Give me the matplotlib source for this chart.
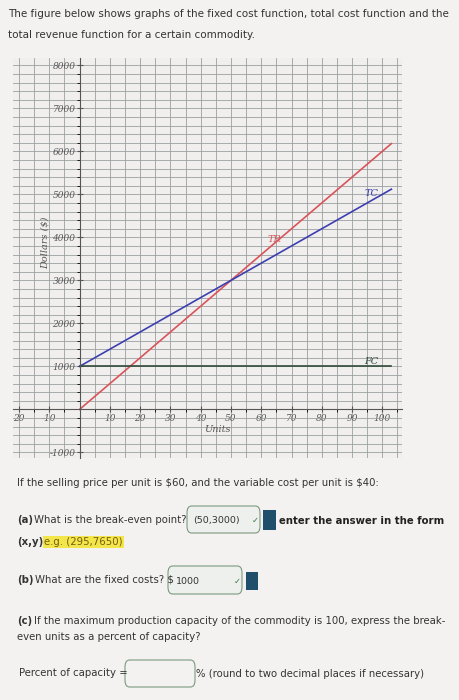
import numpy as np
import matplotlib
matplotlib.use("Agg")
import matplotlib.pyplot as plt
from matplotlib.patches import FancyBboxPatch, Rectangle

# data
price = 60
var_cost = 40
fixed_cost = 1000
units = np.array([0, 103])
x_ticks = [-20, -10, 10, 20, 30, 40, 50, 60, 70, 80, 90, 100]
y_ticks = [-1000, 1000, 2000, 3000, 4000, 5000, 6000, 7000, 8000]

fig = plt.figure(figsize=(4.6, 7), dpi=100)
fig.patch.set_facecolor("#f4f2f0")

W, H = 460, 700


def fx(px):
    return px / W


def fy(py):
    return 1 - py / H


fig.text(fx(8), fy(14), "The figure below shows graphs of the fixed cost function, total cost function and the",
         fontsize=7.5, va="center", color="#333")
fig.text(fx(8), fy(35), "total revenue function for a certain commodity.", fontsize=7.5, va="center", color="#333")

ax = fig.add_axes([fx(13), fy(458), fx(402) - fx(13), fy(58) - fy(458)])
ax.set_facecolor("#f1eeee")
ax.set_xlim(-22, 106.5)
ax.set_ylim(-1130, 8170)
ax.set_xticks(np.arange(-20, 106, 5), minor=True)
ax.set_yticks(np.arange(-1000, 8200, 200), minor=True)
ax.grid(which="minor", color="#9aa0a0", lw=0.6)
ax.grid(which="major", color="#9aa0a0", lw=0.6)
for s in ["top", "right"]:
    ax.spines[s].set_visible(False)
ax.spines["left"].set_position(("data", 0))
ax.spines["bottom"].set_position(("data", 0))
ax.spines["left"].set_color("#555")
ax.spines["bottom"].set_color("#555")
ax.set_xticks(x_ticks)
ax.set_yticks(y_ticks)
ax.set_xticklabels([str(abs(t)) if t == -20 else str(t) for t in x_ticks],
                   fontsize=6.5, style="italic", family="serif", color="#555")
ax.set_yticklabels([str(t) for t in y_ticks], fontsize=6.5, style="italic", family="serif", color="#555")
ax.tick_params(direction="inout", length=4, color="#555", pad=1)

ax.plot(units, price * units, color="#d9545a", lw=1.2)
ax.plot(units, fixed_cost + var_cost * units, color="#3c3fb0", lw=1.2)
ax.plot(units, [fixed_cost, fixed_cost], color="#2f4a3a", lw=1.2)

tf = dict(style="italic", family="serif", fontsize=7)
ax.text(62, 3900, "TR", color="#d9545a", **tf)
ax.text(94, 4950, "TC", color="#3c3fb0", **tf)
ax.text(94, 1060, "FC", color="#2f4a3a", **tf)
ax.text(41, -520, "Units", color="#555", **tf)
ax.text(-13, 3300, "Dollars ($)", color="#555", rotation=90, **tf)

fs = 7.3
c = "#333"
fig.text(fx(17), fy(483), r"If the selling price per unit is \$60, and the variable cost per unit is \$40:", fontsize=fs, color=c, va="center")
fig.text(fx(17), fy(520), "(a)", fontsize=fs, color=c, va="center", weight="bold")
fig.text(fx(34), fy(520), "What is the break-even point?", fontsize=fs, color=c, va="center")
fig.patches.append(FancyBboxPatch((fx(187), fy(533)), fx(73), fy(506) - fy(533),
                                  boxstyle="round,pad=0,rounding_size=0.01", transform=fig.transFigure,
                                  fc="#eef0ee", ec="#7a9a80", lw=0.8))
fig.text(fx(193), fy(520), "(50,3000)", fontsize=fs - 0.5, color=c, va="center")
fig.text(fx(252), fy(520), "\u2713", fontsize=6, color="#3a7a40", va="center", family="DejaVu Sans")
fig.patches.append(Rectangle((fx(263), fy(530)), fx(13), fy(510) - fy(530), transform=fig.transFigure,
                             fc="#1f4f6a", ec="none"))
fig.text(fx(279), fy(521), "enter the answer in the form", fontsize=fs, color="#222", va="center", weight="bold")
fig.text(fx(17), fy(542), "(x,y)", fontsize=fs, color=c, va="center", weight="bold")
fig.text(fx(44), fy(542), "e.g. (295,7650)", fontsize=fs, color="#7a5a10", va="center",
         bbox=dict(fc="#f2e64a", ec="none", pad=0.8))

fig.text(fx(17), fy(580), "(b)", fontsize=fs, color=c, va="center", weight="bold")
fig.text(fx(35), fy(580), r"What are the fixed costs? \$", fontsize=fs, color=c, va="center")
fig.patches.append(FancyBboxPatch((fx(168), fy(594)), fx(74), fy(566) - fy(594),
                                  boxstyle="round,pad=0,rounding_size=0.01", transform=fig.transFigure,
                                  fc="#eef0ee", ec="#7a9a80", lw=0.8))
fig.text(fx(176), fy(581), "1000", fontsize=fs - 0.5, color=c, va="center")
fig.text(fx(234), fy(581), "\u2713", fontsize=6, color="#3a7a40", va="center", family="DejaVu Sans")
fig.patches.append(Rectangle((fx(246), fy(590)), fx(12), fy(572) - fy(590), transform=fig.transFigure,
                             fc="#1f4f6a", ec="none"))

fig.text(fx(17), fy(621), "(c)", fontsize=fs, color=c, va="center", weight="bold")
fig.text(fx(34), fy(621), "If the maximum production capacity of the commodity is 100, express the break-",
         fontsize=fs, color=c, va="center")
fig.text(fx(17), fy(637), "even units as a percent of capacity?", fontsize=fs, color=c, va="center")

fig.text(fx(19), fy(673), "Percent of capacity =", fontsize=fs, color=c, va="center")
fig.patches.append(FancyBboxPatch((fx(125), fy(687)), fx(70), fy(660) - fy(687),
                                  boxstyle="round,pad=0,rounding_size=0.01", transform=fig.transFigure,
                                  fc="#f4f2f0", ec="#7a9a80", lw=0.8))
fig.text(fx(196), fy(674), "% (round to two decimal places if necessary)", fontsize=fs, color=c, va="center")

fig.savefig("out.png", dpi=100, facecolor=fig.get_facecolor())
